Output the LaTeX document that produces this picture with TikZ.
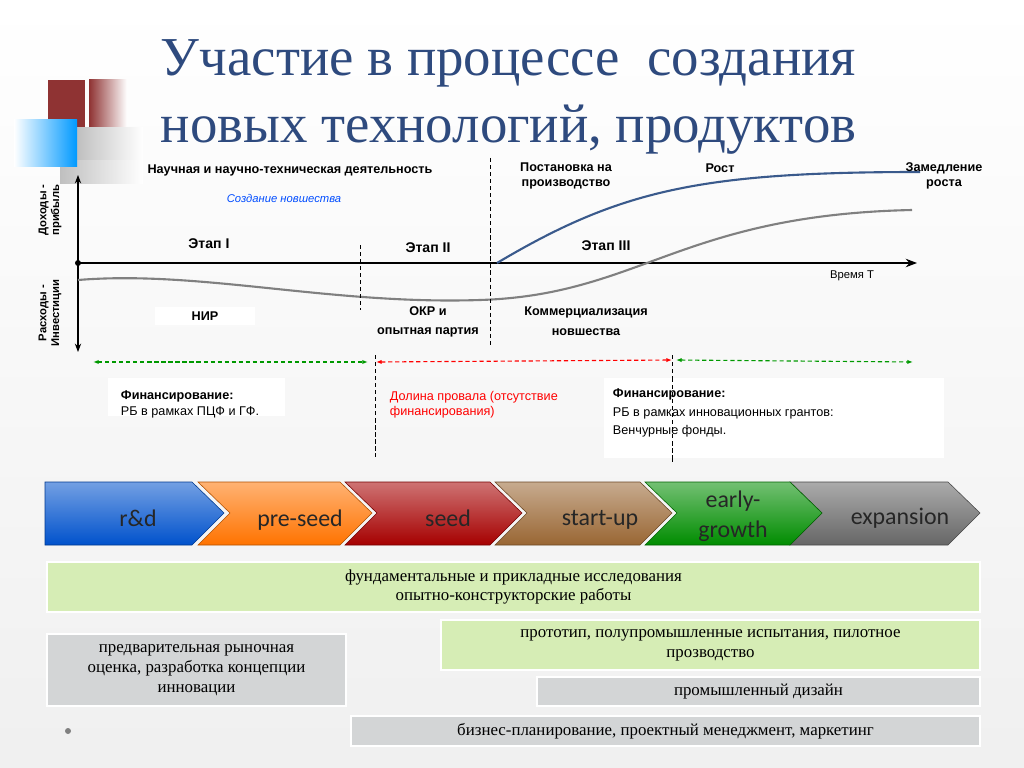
\documentclass[tikz,border=0pt]{standalone}
\usepackage{fontspec}
\setmainfont{Liberation Serif}
\newfontfamily\arial{Liberation Sans}
\newfontfamily\calib{Carlito}
\usetikzlibrary{arrows.meta}
\definecolor{titleblue}{HTML}{2E4A7E}
\definecolor{curveblue}{HTML}{3A5A8C}
\definecolor{lightgreen}{HTML}{D6EDB5}
\definecolor{lightgray}{HTML}{D3D5D6}
\tikzset{
  lbl/.style={font=\arial\bfseries\fontsize{9}{11}\selectfont,align=center},
  txt/.style={font=\arial\fontsize{9}{11}\selectfont,align=left},
  box/.style={draw=white,line width=1pt,font=\fontsize{12}{14}\selectfont,align=center},
  stage/.style={font=\calib\fontsize{17}{18}\selectfont,text=black!85,text depth=0pt},
  fundarrow/.style={densely dashed,thick,{Latex[length=4pt]}-{Latex[length=4pt]}},
  guide/.style={densely dashed,thin}
}
\newcommand{\chev}[4]{% x0, x1, colour, first?
  \shade[top color=#3!55,bottom color=#3,draw=#3!70!black]
    (#1,482) -- (#2,482) -- (#2+32,513) -- (#2,545) -- (#1,545) -- #4 cycle;}
\begin{document}
\begin{tikzpicture}[x=0.025cm,y=-0.025cm]
\useasboundingbox[shade,top color=white,bottom color=gray!12] (0,0) rectangle (1024,768);
%decor
\fill[red!45!black!80] (48,80) rectangle (85,160);
\shade[left color=red!45!black!80,right color=white] (89,80) rectangle (127,128);
\shade[left color=gray!50,right color=white] (60,160) rectangle (143,183);
\shade[left color=gray!50,right color=white] (77,128) rectangle (143,160);
\shade[left color=white,right color=blue!40!cyan] (14,120) rectangle (77,167);
%title
\node[font=\fontsize{39}{47}\selectfont,text=titleblue,align=left,anchor=west] (title) at (156,97) {Участие в процессе\ \ создания\\новых технологий, продуктов};
%axes
\coordinate (origin) at (78,263);
\coordinate (ytop) at (78,175);
\coordinate (ybot) at (78,352);
\coordinate (xend) at (917,263);
\draw[thick,-{Stealth[length=6pt]}] (origin) -- (ytop);
\draw[thick,-{Stealth[length=6pt]}] (origin) -- (ybot);
\draw[line width=1.8pt,-{Stealth[length=8pt]}] (origin) -- (xend);
\fill (origin) circle (3);
\node[lbl,rotate=90,font=\arial\bfseries\fontsize{8}{9}\selectfont] (profit) at (50,210) {Доходы -\\прибыль};
\node[lbl,rotate=90,font=\arial\bfseries\fontsize{8}{9}\selectfont] (invest) at (50,313) {Расходы -\\Инвестиции};
%curves
\draw[curveblue,line width=1.5pt] (497,263) .. controls (620,190) and (700,172) .. (920,172);
\draw[gray,line width=1.5pt] (78,280) .. controls (200,270) and (330,305) .. (480,300)
  .. controls (640,295) and (680,215) .. (912,210);
%guides
\draw[guide] (490,158) -- (490,345);
\draw[guide] (360,245) -- (360,310);
\draw[guide] (375,355) -- (375,457);
\draw[guide] (672,355) -- (672,462);
%labels
\node[lbl] (sci) at (290,170) {Научная и научно-техническая деятельность};
\node[txt,text=blue!70!cyan,font=\arial\itshape\fontsize{8}{10}\selectfont] (novelty) at (284,198) {Создание новшества};
\node[lbl] (prod) at (566,176) {Постановка на\\производство};
\node[lbl] (growth) at (720,168) {Рост};
\node[lbl] (slow) at (944,176) {Замедление\\роста};
\node[lbl,font=\arial\bfseries\fontsize{10}{12}\selectfont] (st1) at (209,244) {Этап I};
\node[lbl,font=\arial\bfseries\fontsize{10}{12}\selectfont] (st2) at (428,248) {Этап II};
\node[lbl,font=\arial\bfseries\fontsize{10}{12}\selectfont] (st3) at (606,246) {Этап III};
\node[txt,font=\arial\fontsize{8}{10}\selectfont] (time) at (852,276) {Время Т};
\node[lbl,fill=white] (nir) at (205,316) {\ \ \ \ \ \ \ \ \ НИР\ \ \ \ \ \ \ \ \ };
\node[lbl,font=\arial\bfseries\fontsize{9}{14}\selectfont] (okr) at (428,322) {ОКР и\\опытная партия};
\node[lbl,font=\arial\bfseries\fontsize{9}{14}\selectfont] (comm) at (586,321) {Коммерциализация\\новшества};
%funding arrows
\coordinate (f0) at (93,362); \coordinate (f1) at (368,362);
\coordinate (f2) at (376,362); \coordinate (f3) at (672,360);
\coordinate (f4) at (676,360); \coordinate (f5) at (913,362);
\draw[fundarrow,green!60!black] (f0) -- (f1);
\draw[fundarrow,red] (f2) -- (f3);
\draw[fundarrow,green!60!black] (f4) -- (f5);
\fill[white] (108,378) rectangle (285,416);
\fill[white] (604,378) rectangle (944,458);
\node[txt,anchor=north west] (fund1) at (116,386) {\textbf{Финансирование:}\\РБ в рамках ПЦФ и ГФ.};
\node[txt,anchor=north west,text=red] (gap) at (385,386) {Долина провала (отсутствие\\финансирования)};
\node[txt,anchor=north west,font=\arial\fontsize{9}{13}\selectfont] (fund2) at (608,384) {\textbf{Финансирование:}\\РБ в рамках инновационных грантов:\\Венчурные фонды.};
\draw[guide] (672,378) -- (672,462);
%chevrons
\chev{790}{948}{gray!80!black}{(822,513) --}
\chev{645}{790}{green!55!black}{(677,513) --}
\chev{495}{640}{brown!80!black}{(527,513) --}
\chev{345}{490}{red!65!black}{(377,513) --}
\chev{198}{340}{orange!90!red}{(230,513) --}
\chev{45}{192}{blue!60!cyan!80!black}{}
\node[stage] (rd) at (138,518) {r\&d};
\node[stage] (preseed) at (300,518) {pre-seed};
\node[stage] (seed) at (448,518) {seed};
\node[stage] (startup) at (600,518) {start-up};
\node[stage,align=center,font=\calib\fontsize{17}{21}\selectfont] (early) at (733,514) {early-\\growth};
\node[stage] (expansion) at (900,516) {expansion};
%boxes
\node[box,fill=lightgreen,minimum width=933*0.025cm,minimum height=50*0.025cm] (fund) at (513.5,587) {фундаментальные и прикладные исследования\\опытно-конструкторские работы};
\node[box,fill=lightgray,minimum width=299*0.025cm,minimum height=72*0.025cm] (market) at (196.5,670) {предварительная рыночная\\оценка, разработка концепции\\инновации};
\node[box,fill=lightgreen,minimum width=539*0.025cm,minimum height=50*0.025cm] (proto) at (710.5,645) {прототип, полупромышленные испытания, пилотное\\прозводство};
\node[box,fill=lightgray,minimum width=443*0.025cm,minimum height=29*0.025cm] (design) at (758.5,691.5) {промышленный дизайн};
\node[box,fill=lightgray,minimum width=629*0.025cm,minimum height=30*0.025cm] (biz) at (665.5,731) {бизнес-планирование, проектный менеджмент, маркетинг};
\fill[gray] (68,731) circle (3);
\end{tikzpicture}
\end{document}
